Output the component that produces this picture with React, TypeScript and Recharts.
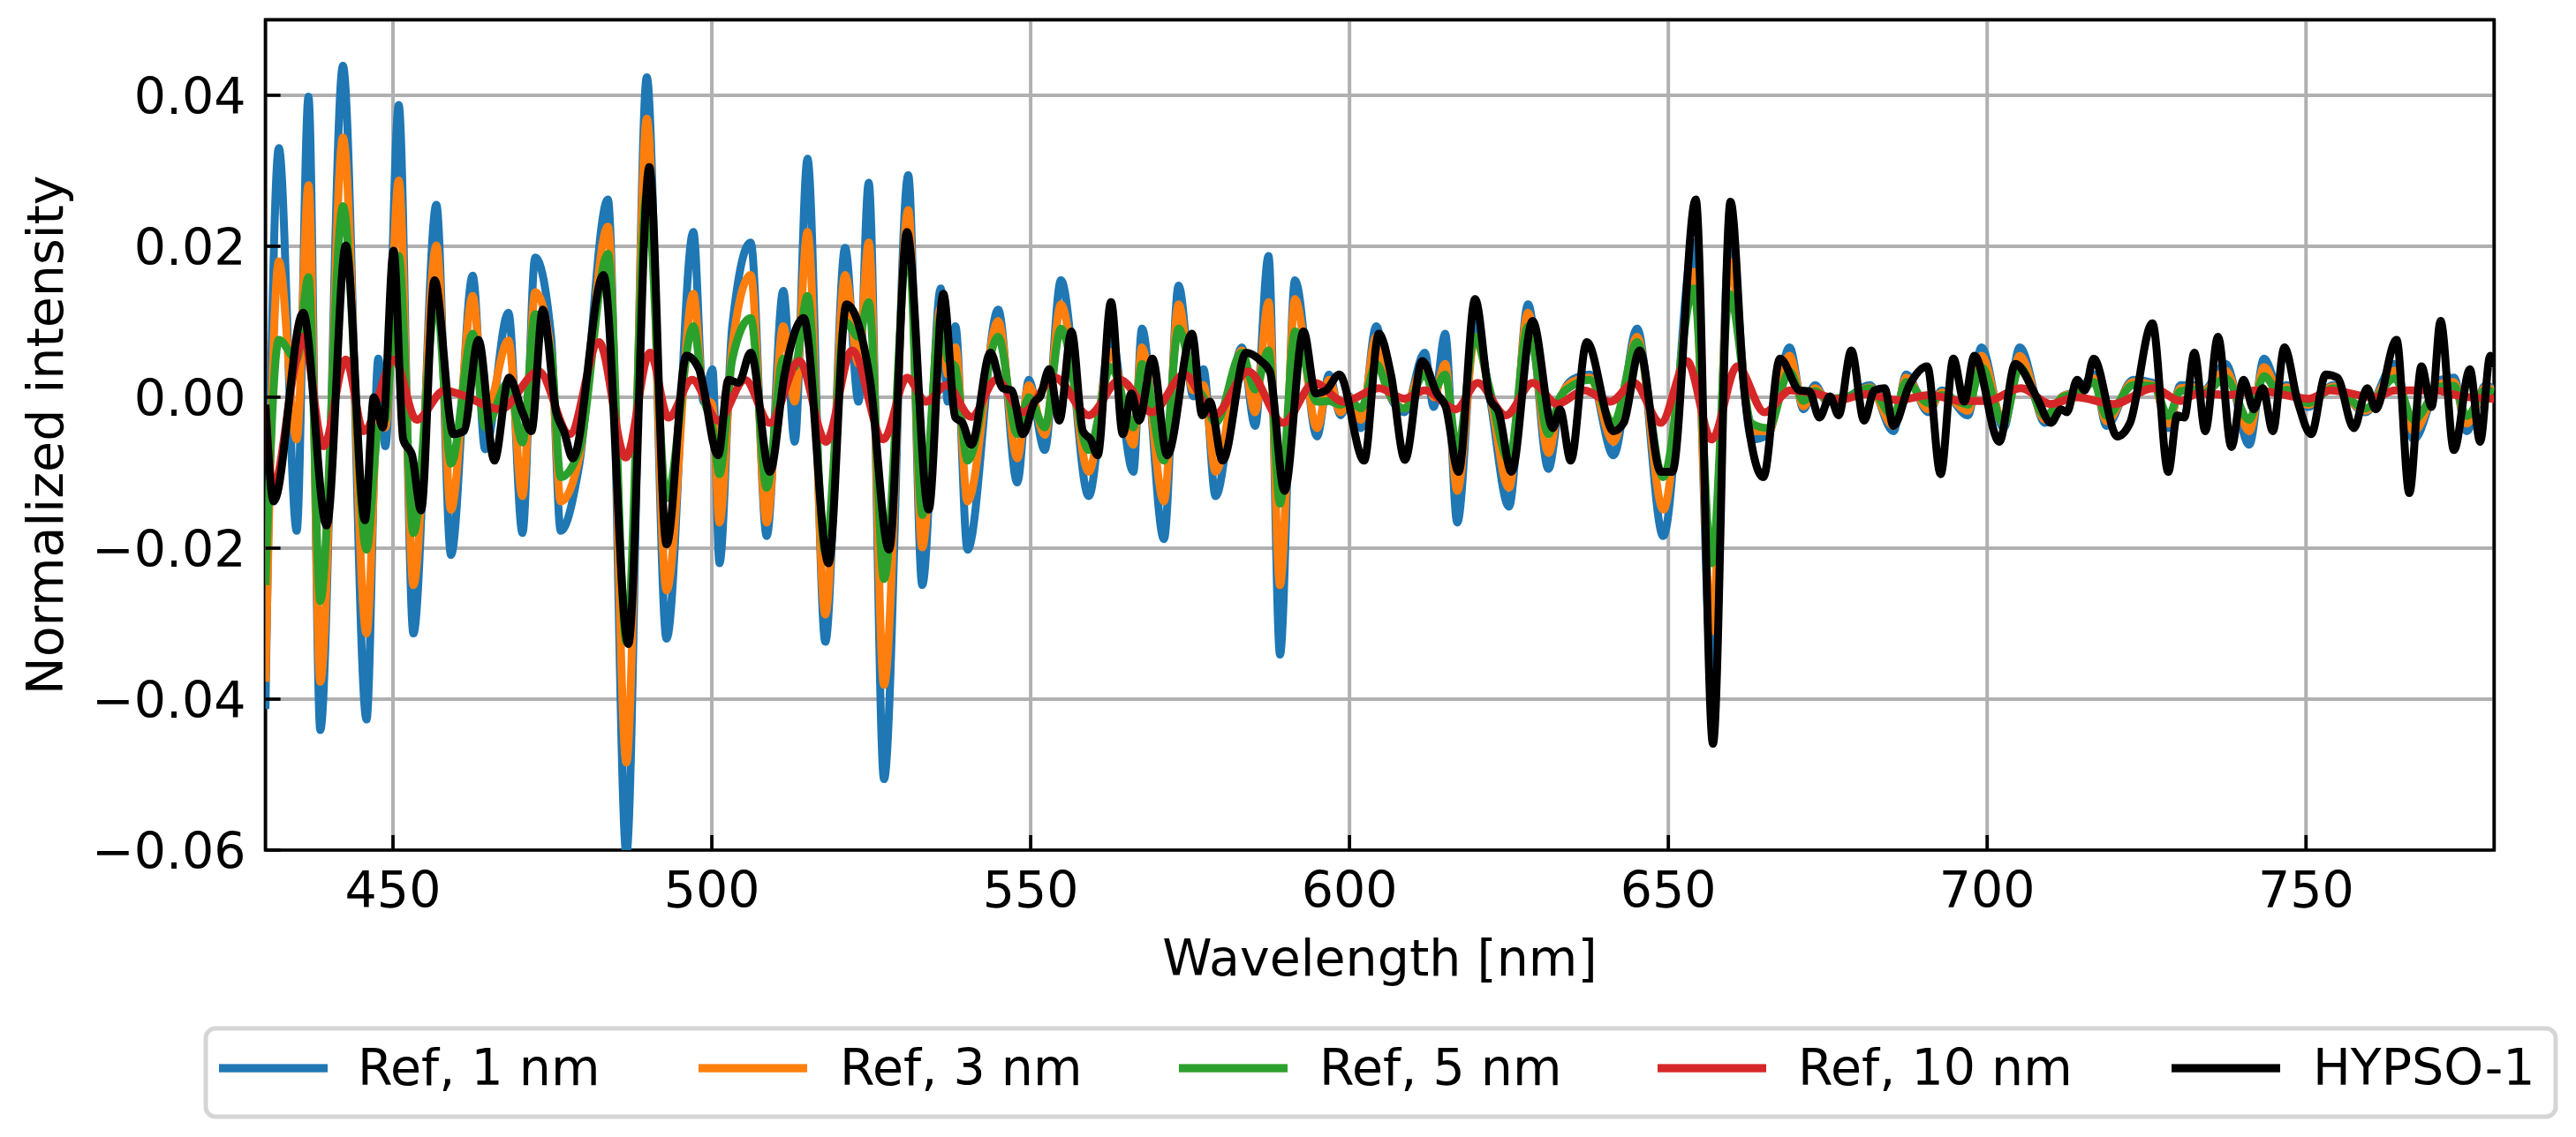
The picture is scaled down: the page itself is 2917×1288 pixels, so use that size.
import { LineChart, Line, XAxis, YAxis, CartesianGrid, ReferenceArea } from "recharts";

// reference spectra, convolved to 1, 3 and 5 nm, share one wavelength grid
const refWl = [
  430.0, 432.1, 434.9, 436.75, 438.6, 442.15, 445.85, 447.7, 448.8, 450.9,
  453.2, 456.8, 459.1, 462.5, 464.45, 468.1, 470.3, 472.3, 474.8, 476.3,
  479.2, 483.7, 486.6, 489.8, 492.9, 497.1, 498.7, 500.1, 501.2, 503.2,
  506.1, 508.6, 511.2, 513.0, 515.0, 517.8, 520.9, 523.0, 524.6, 527.0,
  530.8, 533.0, 535.9, 537.0, 538.2, 540.1, 544.9, 547.9, 549.7, 552.2,
  554.75, 559.1, 562.6, 566.1, 567.45, 570.9, 573.2, 575.5, 577.1, 579.0,
  583.1, 585.2, 587.3, 589.1, 591.45, 594.9, 596.8, 598.6, 600.0, 601.8,
  604.2, 606.2, 608.6, 611.8, 613.2, 615.0, 616.9, 619.7, 622.0, 625.0,
  628.0, 631.2, 633.0, 634.9, 637.7, 641.4, 645.1, 649.2, 654.0, 656.8,
  659.6, 663.1, 665.7, 669.0, 671.2, 673.0, 674.9, 677.7, 681.6, 685.3,
  687.3, 690.8, 692.9, 697.0, 699.1, 702.6, 705.1, 709.1, 711.8, 714.6,
  716.7, 718.7, 722.9, 726.1, 728.4, 730.3, 732.5, 733.9, 737.4, 741.1,
  743.4, 745.9, 746.9, 750.3, 754.3, 759.3, 763.9, 766.9, 771.1, 773.2,
  775.2, 778.2, 779.5,
];

const ref1 = [
  -0.0413, 0.033, -0.0177, 0.0398, -0.0441, 0.0439, -0.0427, 0.0051, -0.0065, 0.0387,
  -0.0313, 0.0255, -0.0209, 0.0161, -0.0069, 0.0112, -0.018, 0.0185, 0.008, -0.0177,
  -0.009, 0.0262, -0.0605, 0.0424, -0.032, 0.0219, -0.0006, 0.0037, -0.022, 0.0094,
  0.0205, -0.0184, 0.0141, -0.0059, 0.0316, -0.0324, 0.0198, -0.0006, 0.0284, -0.0506,
  0.0294, -0.0249, 0.0144, -0.0006, 0.0094, -0.0202, 0.0116, -0.0113, 0.0023, -0.007,
  0.0155, -0.0131, 0.008, -0.0099, 0.0091, -0.0188, 0.0148, 0.0001, 0.0037, -0.0131,
  0.0066, -0.0038, 0.0187, -0.0341, 0.0155, -0.0052, 0.003, -0.0024, 0.0001, -0.0041,
  0.0094, 0.0005, -0.002, 0.0059, -0.0013, 0.0084, -0.0166, 0.01, 0.0, -0.0145,
  0.0123, -0.0095, -0.0006, 0.0023, 0.003, -0.0077, 0.0091, -0.0184, 0.0205, -0.036,
  0.0205, -0.0056, -0.0049, 0.0066, -0.0016, 0.0016, -0.0006, -0.0002, 0.0016, -0.0045,
  0.003, -0.002, 0.0009, -0.0024, 0.0066, -0.0041, 0.0066, -0.0034, 0.0001, 0.0009,
  0.003, -0.0038, 0.0023, 0.0019, -0.0041, 0.0016, 0.0016, 0.0009, 0.0044, -0.0063,
  0.0051, 0.0009, 0.0016, -0.0013, 0.0016, -0.002, 0.0044, -0.0056, 0.0023, 0.0026,
  -0.0045, 0.0016, 0.0009,
];

const ref3 = [
  -0.0377, 0.018, -0.0056, 0.0281, -0.0377, 0.0344, -0.0313, -0.002, -0.004, 0.0287,
  -0.0249, 0.0201, -0.0149, 0.0134, -0.0027, 0.0075, -0.0131, 0.0139, 0.006, -0.0138,
  -0.008, 0.0226, -0.0484, 0.0369, -0.0256, 0.0137, 0.0, -0.001, -0.0166, 0.0066,
  0.0162, -0.0166, 0.0094, -0.0006, 0.0219, -0.0288, 0.0162, 0.0044, 0.0205, -0.0381,
  0.0248, -0.0199, 0.0119, 0.003, 0.0066, -0.0138, 0.0101, -0.0081, 0.0016, -0.005,
  0.0123, -0.0099, 0.006, -0.0063, 0.0066, -0.0138, 0.0123, 0.0009, 0.0016, -0.0099,
  0.0062, -0.002, 0.0126, -0.0249, 0.013, -0.0041, 0.0023, -0.002, 0.0, -0.003,
  0.008, 0.0005, -0.0015, 0.0045, 0.0, 0.0044, -0.0124, 0.008, 0.0005, -0.012,
  0.0112, -0.0074, -0.0003, 0.002, 0.0026, -0.0059, 0.008, -0.0149, 0.0166, -0.031,
  0.018, -0.0045, -0.0045, 0.0055, -0.0012, 0.0012, -0.0004, -0.0002, 0.0013, -0.0038,
  0.0026, -0.0016, 0.0006, -0.0018, 0.0055, -0.0035, 0.0055, -0.003, 0.0001, 0.0008,
  0.0025, -0.0032, 0.002, 0.0016, -0.0035, 0.0012, 0.0013, 0.0008, 0.0035, -0.0045,
  0.004, 0.0007, 0.0013, -0.001, 0.0014, -0.0018, 0.0035, -0.0045, 0.0018, 0.002,
  -0.0035, 0.0013, 0.0008,
];

const ref5 = [
  -0.0249, 0.0076, 0.005, 0.0159, -0.027, 0.0253, -0.0202, -0.004, -0.003, 0.0187,
  -0.018, 0.013, -0.0088, 0.0084, -0.004, 0.002, -0.006, 0.011, 0.006, -0.0106,
  -0.007, 0.019, -0.0324, 0.027, -0.0134, 0.0094, 0.0, -0.004, -0.0102, 0.005,
  0.0105, -0.012, 0.0051, 0.004, 0.0134, -0.0206, 0.01, 0.008, 0.0126, -0.0241,
  0.0209, -0.0156, 0.0109, 0.005, 0.004, -0.0084, 0.008, -0.0049, 0.0, -0.004,
  0.0091, -0.007, 0.004, -0.004, 0.0044, -0.0084, 0.0091, 0.002, 0.0, -0.0034,
  0.0059, 0.001, 0.0062, -0.0141, 0.0087, -0.0006, -0.0005, -0.001, -0.0004, -0.0015,
  0.0044, 0.0005, -0.0015, 0.003, 0.001, 0.003, -0.007, 0.008, 0.001, -0.0084,
  0.0094, -0.0049, 0.0, 0.0015, 0.0023, -0.0034, 0.0073, -0.0106, 0.0144, -0.022,
  0.0137, -0.0035, -0.0041, 0.0034, -0.0005, 0.0008, -0.0002, 0.0, 0.0012, -0.0025,
  0.002, -0.0008, 0.0003, -0.001, 0.004, -0.0035, 0.004, -0.0025, 0.0, 0.0006,
  0.002, -0.0025, 0.0016, 0.0015, -0.0025, 0.0008, 0.001, 0.0006, 0.0025, -0.003,
  0.0028, 0.0005, 0.001, -0.0008, 0.0012, -0.0015, 0.0025, -0.003, 0.0014, 0.0015,
  -0.0025, 0.001, 0.0006,
];

// 10 nm reference is smoother, own grid
const ref10Wl = [
  430.0, 431.2, 434.7, 435.9, 439.1, 442.6, 445.4, 450.2, 453.7, 458.1,
  460.8, 466.85, 472.85, 477.7, 482.3, 486.5, 490.3, 493.2, 496.9, 501.0,
  505.2, 509.1, 513.7, 517.9, 522.0, 526.9, 530.6, 533.6, 536.8, 540.7,
  544.6, 548.8, 553.8, 559.1, 564.0, 569.0, 574.1, 578.8, 584.1, 589.6,
  594.5, 599.1, 604.6, 608.6, 611.8, 616.7, 620.1, 624.5, 628.7, 632.6,
  636.8, 640.9, 644.6, 648.8, 652.9, 656.8, 660.8, 665.1, 669.1, 673.0,
  677.0, 681.0, 686.0, 691.0, 696.0, 700.0, 705.3, 710.0, 714.0, 719.8,
  726.1, 730.3, 733.0, 738.0, 742.2, 750.5, 753.8, 760.7, 764.0, 770.0,
  774.6, 779.5,
];

const ref10 = [
  -0.001, -0.012, 0.0044, 0.008, -0.0065, 0.005, -0.0045, 0.005, -0.003, 0.0009,
  0.0003, -0.0016, 0.0034, -0.0049, 0.0073, -0.008, 0.0059, -0.0027, 0.0023, -0.0031,
  0.0023, -0.0034, 0.0048, -0.0059, 0.0062, -0.0056, 0.0026, -0.0006, 0.0016, -0.0026,
  0.0023, -0.002, 0.0026, -0.0024, 0.0023, -0.002, 0.003, -0.0024, 0.0034, -0.0034,
  0.0019, -0.0006, 0.0012, -0.0002, 0.0009, -0.0016, 0.0019, -0.0024, 0.0019, -0.0009,
  0.0009, -0.0006, 0.0019, -0.0034, 0.0048, -0.0056, 0.0041, -0.002, 0.0009, 0.0005,
  -0.0003, 0.0004, -0.0004, 0.0003, -0.0005, -0.0005, 0.0012, -0.0009, 0.0, -0.0009,
  0.0012, -0.0005, 0.0005, 0.0003, 0.0009, -0.0002, 0.0009, 0.0, 0.0009, 0.0009,
  0.0001, -0.0002,
];

const hypsoWl = [
  430.0, 431.3, 435.9, 439.6, 442.6, 445.6, 447.0, 448.4, 450.1, 451.6,
  453.0, 454.4, 456.5, 459.5, 461.1, 463.4, 465.9, 468.2, 470.3, 471.7,
  473.5, 475.6, 476.8, 478.2, 483.0, 486.9, 490.2, 492.9, 496.0, 498.0,
  501.0, 502.6, 504.2, 506.1, 509.1, 511.4, 514.4, 518.3, 521.1, 524.8,
  527.8, 530.6, 534.0, 536.3, 538.2, 539.3, 540.7, 543.7, 545.6, 547.0,
  548.8, 550.6, 551.5, 552.9, 554.5, 556.4, 558.2, 559.4, 560.5, 562.6,
  564.45, 565.8, 567.0, 569.1, 571.4, 575.3, 576.9, 578.1, 580.1, 583.8,
  586.1, 587.5, 589.8, 592.8, 594.7, 596.3, 598.4, 602.3, 604.6, 606.5,
  608.7, 611.4, 613.7, 615.1, 617.1, 619.7, 622.0, 623.4, 625.4, 628.7,
  631.9, 633.0, 634.7, 637.2, 641.4, 643.0, 645.5, 648.8, 650.6, 654.3,
  657.0, 659.75, 661.9, 664.9, 667.5, 670.6, 672.1, 673.7, 675.35, 676.7,
  678.7, 680.7, 682.3, 683.9, 685.3, 687.8, 690.6, 692.7, 694.7, 696.4,
  698.0, 701.9, 704.4, 707.7, 710.0, 711.6, 712.5, 714.1, 715.3, 716.7,
  720.4, 722.4, 725.9, 728.4, 729.8, 730.9, 732.5, 734.2, 736.2, 738.3,
  740.2, 741.8, 743.2, 744.8, 746.6, 748.7, 750.8, 753.1, 754.9, 757.5,
  759.6, 760.9, 764.2, 766.2, 768.1, 769.7, 771.1, 773.2, 775.7, 777.3,
  778.9, 779.5,
];

const hypso = [
  -0.001, -0.0138, 0.0112, -0.017, 0.0201, -0.0163, 0.0, -0.004, 0.0194, -0.0056,
  -0.0077, -0.015, 0.0155, -0.0049, -0.0045, 0.0076, -0.0084, 0.0026, -0.002, -0.0045,
  0.0116, -0.002, -0.0045, -0.0081, 0.0162, -0.0327, 0.0305, -0.0195, 0.0055, 0.0037,
  -0.0077, 0.0023, 0.0019, 0.0059, -0.0099, 0.003, 0.0105, -0.022, 0.0123, 0.0023,
  -0.0202, 0.0219, -0.0149, 0.0137, -0.0027, -0.0034, -0.0063, 0.0059, 0.0012, 0.0009,
  -0.0049, -0.0006, 0.0001, 0.0037, -0.0031, 0.0087, -0.0045, -0.0056, -0.0077, 0.0126,
  -0.0049, 0.0005, -0.0031, 0.0051, -0.0077, 0.0084, -0.0024, -0.0006, -0.0084, 0.0059,
  0.0048, 0.0034, -0.0124, 0.0087, 0.0005, 0.0009, 0.003, -0.0084, 0.0084, 0.003,
  -0.0083, 0.0048, 0.0005, -0.0013, -0.0099, 0.013, -0.0002, -0.002, -0.0099, 0.0101,
  -0.0041, -0.0016, -0.0084, 0.0073, -0.0045, -0.0034, 0.0062, -0.0099, -0.0099, 0.0262,
  -0.0459, 0.0259, 0.0009, -0.0106, 0.0051, 0.0009, 0.0008, -0.0027, 0.0001, -0.0024,
  0.0062, -0.0031, 0.0009, 0.0012, -0.0038, 0.0016, 0.0041, -0.0102, 0.0051, -0.0006,
  0.0055, -0.0059, 0.0044, 0.0001, -0.0034, -0.0016, -0.002, 0.0023, 0.0009, 0.0051,
  -0.0052, -0.0034, 0.0098, -0.0099, -0.0024, -0.0027, 0.0059, -0.0045, 0.008, -0.0066,
  0.0023, -0.0016, 0.0012, -0.0045, 0.0066, -0.0006, -0.0049, 0.003, 0.0026, -0.0041,
  0.0012, -0.0016, 0.0076, -0.0127, 0.0041, -0.0013, 0.0101, -0.007, 0.0037, -0.0059,
  0.0055, 0.004,
];

const xTicks = [450, 500, 550, 600, 650, 700, 750];
const yTicks = [-0.06, -0.04, -0.02, 0, 0.02, 0.04];

const series = [
  { name: "Ref, 1 nm", color: "#1f77b4", wl: refWl, vals: ref1 },
  { name: "Ref, 3 nm", color: "#ff7f0e", wl: refWl, vals: ref3 },
  { name: "Ref, 5 nm", color: "#2ca02c", wl: refWl, vals: ref5 },
  { name: "Ref, 10 nm", color: "#d62728", wl: ref10Wl, vals: ref10 },
  { name: "HYPSO-1", color: "#000000", wl: hypsoWl, vals: hypso },
];

const W = 2901;
const H = 1272;
const MARGIN = { top: 14.4, right: 84.7, bottom: 217, left: 92.6 };
const Y_AXIS_W = 200;
const X_AXIS_H = 100;
const FONT = "'DejaVu Sans', sans-serif";
const FS = 57;
const TICK_LEN = 17;
const Y_GAP = 22;
const X_GAP = 23;

const plotLeft = MARGIN.left + Y_AXIS_W;
const plotRight = W - MARGIN.right;
const plotTop = MARGIN.top;
const plotBottom = H - MARGIN.bottom - X_AXIS_H;

const legendHandleX = [240, 783, 1327, 1869, 2451];
const legendTextX = [397, 943, 1486, 2028, 2611];

const fmtY = (v: number) => {
  const s = Math.abs(v).toFixed(2);
  return v < -1e-9 ? "\u2212" + s : s;
};

const toPoints = (xs: number[], ys: number[]) => xs.map((x, i) => ({ x, y: ys[i] }));

const YTick = (props: any) => {
  const { x, y, payload } = props;
  const ax = x + Y_GAP;
  return (
    <g>
      <line x1={ax} x2={ax + TICK_LEN} y1={y} y2={y} stroke="#000" strokeWidth={3.7} />
      <text x={x} y={y + 21} textAnchor="end" fontSize={FS} fontFamily={FONT} fill="#000">
        {fmtY(payload.value)}
      </text>
    </g>
  );
};

const XTick = (props: any) => {
  const { x, y, payload } = props;
  const ay = y - X_GAP;
  return (
    <g>
      <line x1={x} x2={x} y1={ay} y2={ay - TICK_LEN} stroke="#000" strokeWidth={3.7} />
      <text x={x} y={y + 42} textAnchor="middle" fontSize={FS} fontFamily={FONT} fill="#000">
        {payload.value}
      </text>
    </g>
  );
};

export default function App() {
  return (
    <div style={{ position: "relative", width: W, height: H, background: "#fff" }}>
      <LineChart width={W} height={H} margin={MARGIN}>
        <CartesianGrid stroke="#b0b0b0" strokeWidth={4} />
        <XAxis
          type="number"
          dataKey="x"
          domain={[430, 779.5]}
          ticks={xTicks}
          interval={0}
          allowDataOverflow
          height={X_AXIS_H}
          axisLine={false}
          tickLine={false}
          tickSize={0}
          tickMargin={X_GAP}
          tick={(p: any) => <XTick {...p} />}
        />
        <YAxis
          type="number"
          domain={[-0.06, 0.05]}
          ticks={yTicks}
          interval={0}
          allowDataOverflow
          width={Y_AXIS_W}
          axisLine={false}
          tickLine={false}
          tickSize={0}
          tickMargin={Y_GAP}
          tick={(p: any) => <YTick {...p} />}
        />
        {series.map((s) => (
          <Line
            key={s.name}
            data={toPoints(s.wl, s.vals)}
            dataKey="y"
            name={s.name}
            type="monotone"
            stroke={s.color}
            strokeWidth={9}
            strokeLinejoin="round"
            dot={false}
            activeDot={false}
            isAnimationActive={false}
          />
        ))}
        <ReferenceArea
          x1={430}
          x2={779.5}
          y1={-0.06}
          y2={0.05}
          fill="none"
          fillOpacity={0}
          stroke="#000"
          strokeWidth={3.7}
          ifOverflow="visible"
        />
      </LineChart>

      <svg
        width={W}
        height={H}
        style={{ position: "absolute", left: 0, top: 0, pointerEvents: "none" }}
      >
        <text
          x={(plotLeft + plotRight) / 2}
          y={1097}
          textAnchor="middle"
          fontSize={FS}
          fontFamily={FONT}
          fill="#000"
        >
          Wavelength [nm]
        </text>
        <text
          transform={`translate(63, ${(plotTop + plotBottom) / 2}) rotate(-90)`}
          textAnchor="middle"
          fontSize={FS}
          fontFamily={FONT}
          fill="#000"
        >
          Normalized intensity
        </text>

        <rect x={225} y={1157} width={2661} height={100} rx={11} fill="#fff" stroke="#d5d5d5" strokeWidth={5} />
        {series.map((s, i) => (
          <g key={s.name}>
            <rect x={legendHandleX[i]} y={1197.4} width={123} height={9.3} fill={s.color} />
            <text x={legendTextX[i]} y={1221} fontSize={FS} fontFamily={FONT} fill="#000">
              {s.name}
            </text>
          </g>
        ))}
      </svg>
    </div>
  );
}
